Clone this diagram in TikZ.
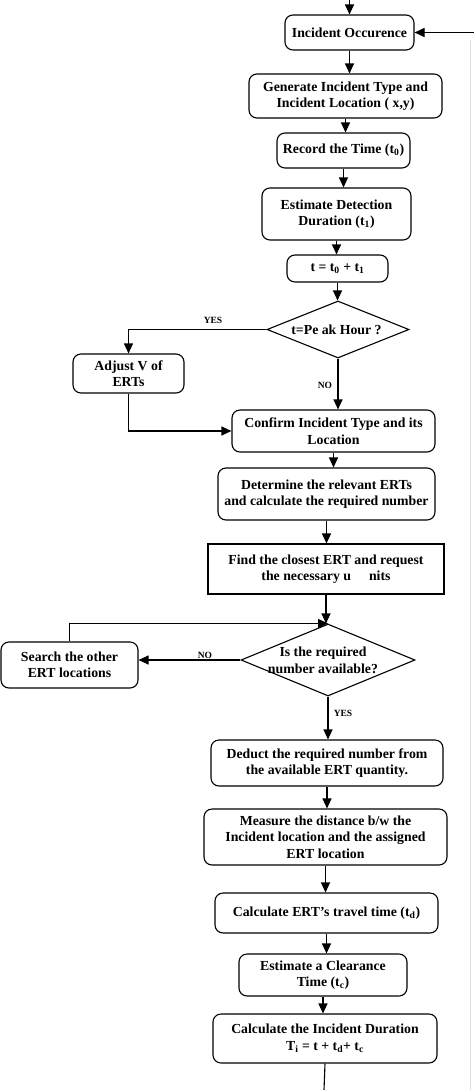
\documentclass[tikz,border=0pt]{standalone}
\usepackage{fontspec}
\setmainfont{Liberation Serif}
\usetikzlibrary{arrows.meta,shapes.geometric}
\begin{document}
\begin{tikzpicture}[x=1pt,y=-1pt,
 every node/.style={font=\bfseries\fontsize{13.8}{16.5}\selectfont},
 rbox/.style={draw, rounded corners=8pt, line width=1.1pt, inner sep=0pt, align=center},
 sbox/.style={draw, line width=1.1pt, inner sep=0pt, align=center},
 dia/.style={draw, diamond, line width=1.1pt, inner sep=0pt},
 txt/.style={align=center, inner sep=0pt},
 lbl/.style={font=\bfseries\fontsize{9.5}{11}\selectfont, inner sep=0pt},
 conn/.style={line width=1.1pt},
 arr/.style={conn, -{Triangle[length=10pt,width=9pt]}}
]
\path[use as bounding box, fill=white] (0,0) rectangle (474,1090);
\draw[gray!25, line width=1pt] (470,40) -- (470,1090);

\node[rbox, minimum width=129pt, minimum height=35pt] (n1) at (349.5,32.5) {Incident Occurence};
\node[rbox, minimum width=193pt, minimum height=44pt] (n2) at (345.5,96) {Generate Incident Type and\\Incident Location ( x,y)};
\node[rbox, minimum width=133pt, minimum height=35pt] (n3) at (343.5,150.5) {Record the Time (t\textsubscript{0})};
\node[rbox, minimum width=149pt, minimum height=52pt] (n4) at (336.5,214) {Estimate Detection\\Duration (t\textsubscript{1})};
\node[rbox, minimum width=101pt, minimum height=27pt] (n5) at (337.5,268.5) {t = t\textsubscript{0} + t\textsubscript{1}};
\node[dia, minimum width=142pt, minimum height=57pt] (d1) at (338,329.5) {};
\node[txt] (d1t) at (336.5,329.5) {t=Pe ak Hour ?};
\node[rbox, minimum width=111pt, minimum height=39pt] (n6) at (128.5,373.5) {Adjust V of\\ERTs};
\node[rbox, minimum width=203pt, minimum height=42pt] (n7) at (333.5,431) {Confirm Incident Type and its\\Location};
\node[rbox, minimum width=217pt, minimum height=52pt] (n8) at (326.5,494) {Determine the relevant ERTs\\and calculate the required number};
\node[sbox, minimum width=236pt, minimum height=50pt] (n9) at (326,569) {Find the closest ERT and request\\the necessary u\hspace{1.3em}nits};
\node[dia, minimum width=174pt, minimum height=72pt] (d2) at (328,660) {};
\node[txt] (d2t) at (323,660.5) {Is the required\\number available?};
\node[rbox, minimum width=137pt, minimum height=46pt] (n10) at (69.5,665) {Search the other\\ERT locations};
\node[rbox, minimum width=232pt, minimum height=46pt] (n11) at (327,763) {Deduct the required number from\\the available ERT quantity.};
\node[rbox, minimum width=243pt, minimum height=56pt] (n12) at (325.5,837) {Measure the distance b/w the\\Incident location and the assigned\\ERT location};
\node[rbox, minimum width=223pt, minimum height=40pt] (n13) at (326.5,913) {Calculate ERT's travel time (t\textsubscript{d})};
\node[rbox, minimum width=168pt, minimum height=42pt] (n14) at (323,975) {Estimate a Clearance\\Time (t\textsubscript{c})};
\node[rbox, minimum width=224pt, minimum height=49pt] (n15) at (325,1038.5) {Calculate the Incident Duration\\T\textsubscript{i} = t + t\textsubscript{d}+ t\textsubscript{c}};

\coordinate (top) at (349.5,0);
\coordinate (rt) at (474,32.5);
\coordinate (bot) at (324,1090);

\draw[arr] (top) -- (n1.north);
\draw[arr] (rt) -- (n1.east);
\draw[arr] (n1.south) -- (n1.south |- n2.north);
\draw[arr] (n2.south) -- (n2.south |- n3.north);
\draw[arr] (n3.south) -- (n3.south |- n4.north);
\draw[arr] (n4.south) -- (n4.south |- n5.north);
\draw[arr] (n5.south) -- (n5.south |- d1.north);
\draw[arr] (d1.west) -| (n6.north);
\draw[arr] (d1.south) -- (d1.south |- n7.north);
\draw[arr] (n6.south) |- (n7.west);
\draw[arr] (n7.south) -- (n7.south |- n8.north);
\draw[arr] (n8.south) -- (n8.south |- n9.north);
\draw[arr] (n9.south) -- (n9.south |- d2.north);
\draw[arr] (n10.north) |- (d2.north);
\draw[arr] (d2.west) -- (d2.west -| n10.east);
\draw[arr] (d2.south) -- (d2.south |- n11.north);
\draw[arr] (n11.south) -- (n11.south |- n12.north);
\draw[arr] (n12.south) -- (n12.south |- n13.north);
\draw[arr] (n13.south) -- (n13.south |- n14.north);
\draw[arr] (n14.south) -- (n14.south |- n15.north);
\draw[conn] (n15.south) -- (bot);

\node[lbl] (l1) at (213,320) {YES};
\node[lbl] (l2) at (325,385) {NO};
\node[lbl] (l3) at (205,655) {NO};
\node[lbl] (l4) at (343,713) {YES};
\end{tikzpicture}
\end{document}
